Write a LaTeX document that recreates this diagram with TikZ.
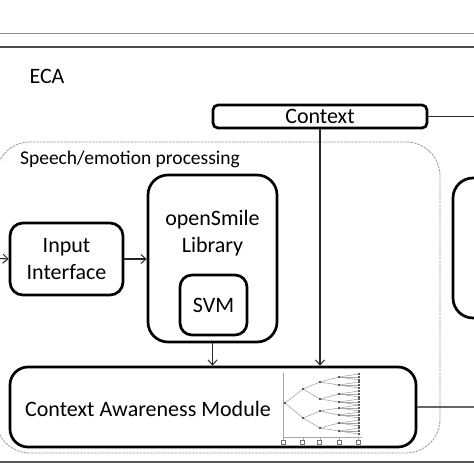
\documentclass[tikz,border=0pt]{standalone}
\usepackage{fontspec}
\setmainfont{Carlito}
\usetikzlibrary{arrows.meta}
\begin{document}
\begin{tikzpicture}[x=1pt,y=-1pt,
  box/.style={draw=black,line width=2.7pt,inner sep=0pt,align=center,text=black},
  txt/.style={inner sep=0pt,align=center,font=\fontsize{22}{27.5}\selectfont,text=black},
  conn/.style={draw=black!85,line width=1.1pt},
  arr/.style={conn,-{Straight Barb[length=5pt,width=9pt,line width=1pt]}},
  region/.style={draw=black!40,line width=0.8pt,dash pattern=on 2.5pt off 1pt},
  tree/.style={draw=black!35,line width=0.6pt},
  leaf/.style={fill=black!65},
  rule/.style={line width=2.4pt}]
\clip (0,0) rectangle (474,474);
\fill[white] (0,0) rectangle (474,474);
% horizontal rules
\coordinate (r1a) at (0,33); \coordinate (r1b) at (474,33);
\coordinate (r2a) at (0,47); \coordinate (r2b) at (474,47);
\coordinate (r3a) at (0,462); \coordinate (r3b) at (474,462);
\draw[draw=black!45,line width=1pt] (r1a) -- (r1b);
\draw[draw=black!70,rule] (r2a) -- (r2b);
\draw[draw=black!65,rule] (r3a) -- (r3b);
% ECA label
\node[txt] (eca) at (47,76) {ECA};
% dashed processing region
\draw[region,rounded corners=34pt] (-4,142) rectangle (440,453);
\node[txt,font=\fontsize{19.5}{24}\selectfont] (speech) at (130,159) {Speech/emotion processing};
% boxes
\node[box,rounded corners=5pt,minimum width=214pt,minimum height=23pt,font=\fontsize{22}{27}\selectfont] (ctx) at (320,116.5) {Context};
\node[box,rounded corners=13pt,minimum width=113pt,minimum height=72pt,font=\fontsize{22}{27.5}\selectfont] (inp) at (66.5,259) {Input\\Interface};
\node[box,rounded corners=20pt,minimum width=129pt,minimum height=167pt] (osl) at (212.5,258.5) {};
\node[txt] (osltxt) at (212.5,233) {openSmile\\Library};
\node[box,rounded corners=12pt,minimum width=67pt,minimum height=60pt,font=\fontsize{22}{27}\selectfont] (svm) at (213.5,305) {SVM};
\node[box,rounded corners=18pt,minimum width=406pt,minimum height=80pt] (cam) at (213,407) {};
\node[txt] (camtxt) at (148,409) {Context Awareness Module};
\node[box,rounded corners=20pt,minimum width=87pt,minimum height=140pt] (rbox) at (496.5,248) {};
% connectors
\coordinate (inL) at (0,258.5);
\coordinate (ctxR) at (474,116.5);
\coordinate (camR) at (474,407);
\draw[arr] (inL) -- (inp.west);
\draw[arr] (inp.east) -- (inp.east -| osl.west);
\draw[conn] (ctx.east) -- (ctxR);
\draw[arr] (ctx.south) -- (ctx.south |- cam.north);
\draw[arr] (osl.south) -- (osl.south |- cam.north);
\draw[conn,draw=black!60] (cam.east) -- (camR);
% decision tree picture
\draw[tree] (283,373) -- (283,443);
\draw[tree] (283,437) -- (362,437);
\foreach \c in {303,320,339,358} \draw[tree] (\c,437) -- (\c,440);
\foreach \c in {283,302,319,339,358}
  \draw[draw=black!55,line width=0.5pt,fill=white] (\c-2,440) rectangle (\c+2,444);
\foreach \c in {389,418} \draw[tree] (285,403) -- (303,\c);
\foreach \p/\c in {389/382,389/399,418/411,418/428} \draw[tree] (303,\p) -- (320,\c);
\foreach \p/\c in {382/377,382/385,399/394,399/402,411/408,411/415,428/423,428/431} \draw[tree] (320,\p) -- (339,\c);
\foreach \c in {377,385,394,402,408,415,423,431}
  \foreach \d in {-3,0,3} {\draw[tree] (339,\c) -- (359,\c+\d);
    \fill[leaf] (358,\c+\d-0.8) rectangle (359.6,\c+\d+0.8);}
\foreach \c in {377,385,394,402,408,415,423,431} \fill[leaf] (338,\c-1) rectangle (340,\c+1);
\foreach \c in {382,399,411,428} \fill[leaf] (319,\c-1) rectangle (321,\c+1);
\foreach \c in {389,418} \fill[leaf] (302,\c-1) rectangle (304,\c+1);
\fill[leaf] (284,402) rectangle (286,404);
\end{tikzpicture}
\end{document}
